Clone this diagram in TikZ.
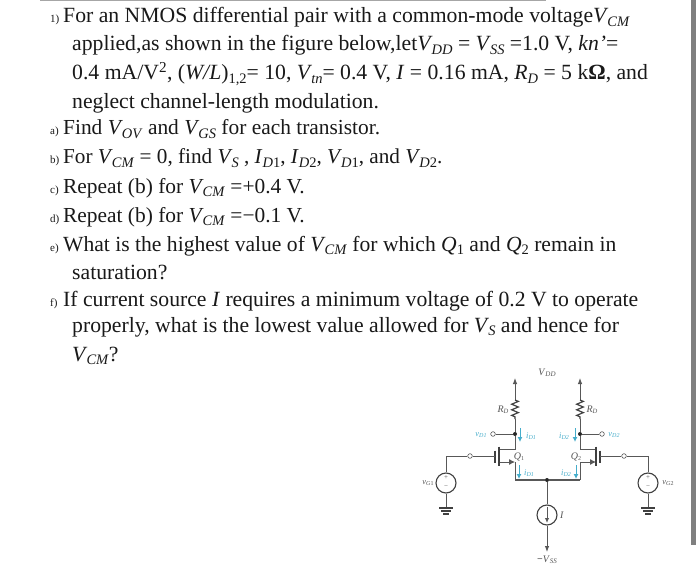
\documentclass[tikz,border=0pt]{standalone}
\usepackage{fontspec}
\setmainfont{Liberation Serif}
\usetikzlibrary{arrows.meta,decorations.pathmorphing,calc}
\definecolor{wirec}{HTML}{585858}
\definecolor{bluec}{HTML}{45ADCB}
\definecolor{labc}{HTML}{555555}
\newcommand{\sbs}[1]{\raisebox{-0.32ex}{\fontsize{14.5}{15}\selectfont\textit{#1}}}
\newcommand{\sbr}[1]{\raisebox{-0.32ex}{\fontsize{14.5}{15}\selectfont #1}}
\newcommand{\tnum}[1]{{\fontsize{11}{11}\selectfont #1}}
\newcommand{\cV}[1]{\textit{V}\kern-1pt\sbs{#1}}
\newcommand{\lab}[2]{\textit{#1}\raisebox{-0.25ex}{\fontsize{6}{6}\selectfont\textit{#2}}}
\tikzset{
  x=1pt,y=-1pt,
  txt/.style={anchor=base west,inner sep=0pt,font=\fontsize{21.7}{24}\selectfont,text=black!90},
  wire/.style={draw=wirec,line width=0.9pt},
  tick/.style={draw=black!75,line width=1.4pt},
  arr/.style={wire,-{Latex[length=6pt,width=4.5pt]}},
  bluearr/.style={draw=bluec,line width=1pt,-{Latex[length=5pt,width=5pt]}},
  dotn/.style={circle,fill=black!85,inner sep=0pt,minimum size=4pt},
  opn/.style={circle,draw=wirec,fill=white,line width=0.6pt,inner sep=0pt,minimum size=4.6pt},
  srcn/.style={circle,draw=black!75,fill=white,line width=1.1pt,inner sep=0pt,minimum size=20pt},
  clab/.style={inner sep=0pt,text=labc,font=\fontsize{8.5}{9}\selectfont},
  blab/.style={inner sep=0pt,text=bluec,font=\fontsize{8.5}{9}\selectfont},
  sgn/.style={inner sep=0pt,text=labc,font=\fontsize{7}{7}\selectfont},
  res/.style={draw=black!75,line width=1.2pt,decorate,decoration={zigzag,segment length=5.6pt,amplitude=3.3pt}},
  gnd/.style={draw=black!75,line width=1.2pt}
}
\begin{document}
\begin{tikzpicture}
\useasboundingbox (0,0) rectangle (700,585);
\fill[white] (0,0) rectangle (700,585);
% page edge marks
\coordinate (ta) at (40,0.6); \coordinate (tb) at (546,0.6);
\draw[draw=black!35,line width=1.2pt] (ta) -- (tb);
\fill[black!50] (691,0) rectangle (696,545);
% text
\node[txt] (l1n) at (50,23) {\tnum{1)}};
\node[txt] (l1) at (63,23) {For an NMOS differential pair with a common-mode voltage\cV{CM}};
\node[txt] (l2) at (72,51) {applied,as shown in the figure below,let\cV{DD} = \cV{SS} =1.0 V, \textit{kn'}=};
\node[txt] (l3) at (72,80) {0.4 mA/V\textsuperscript{2}, (\textit{W/L})\sbr{1,2}= 10, \cV{tn}= 0.4 V, \textit{I} = 0.16 mA, \textit{R}\sbs{D} = 5 k\textbf{Ω}, and};
\node[txt] (l4) at (72,109) {neglect channel-length modulation.};
\node[txt] (an) at (50,135) {\tnum{a)}};
\node[txt,font=\fontsize{21.4}{24}\selectfont] (a) at (63,135) {Find \cV{OV} and \cV{GS} for each transistor.};
\node[txt] (bn) at (50,164) {\tnum{b)}};
\node[txt,font=\fontsize{21.2}{24}\selectfont] (b) at (63,164) {For \cV{CM} = 0, find \cV{S} , \textit{I}\sbs{D}\sbr{1}, \textit{I}\sbs{D}\sbr{2}, \cV{D}\sbr{1}, and \cV{D}\sbr{2}.};
\node[txt] (cn) at (50,193.5) {\tnum{c)}};
\node[txt,font=\fontsize{21.4}{24}\selectfont] (c) at (63,193.5) {Repeat (b) for \cV{CM} =+0.4 V.};
\node[txt] (dn) at (50,222.5) {\tnum{d)}};
\node[txt,font=\fontsize{21.4}{24}\selectfont] (d) at (63,222.5) {Repeat (b) for \cV{CM} =−0.1 V.};
\node[txt] (en) at (50,251.5) {\tnum{e)}};
\node[txt,font=\fontsize{21.6}{24}\selectfont] (e) at (63,251.5) {What is the highest value of \cV{CM} for which \textit{Q}\sbr{1} and \textit{Q}\sbr{2} remain in};
\node[txt] (e2) at (72,279.5) {saturation?};
\node[txt] (fn) at (50,306.5) {\tnum{f)}};
\node[txt] (f) at (63,306.5) {If current source \textit{I} requires a minimum voltage of 0.2 V to operate};
\node[txt] (f2) at (72,332.5) {properly, what is the lowest value allowed for \cV{S} and hence for};
\node[txt] (f3) at (72,361) {\cV{CM}?};
% circuit coordinates
\coordinate (vt1) at (515,378); \coordinate (vt2) at (580,378);
\coordinate (r1t) at (515,400); \coordinate (r1b) at (515,419);
\coordinate (r2t) at (580,400); \coordinate (r2b) at (580,419);
\node[dotn] (d1) at (515,434) {}; \node[dotn] (d2) at (580,434) {};
\node[opn] (vd1) at (493,434) {}; \node[opn] (vd2) at (602,434) {};
\coordinate (dr1) at (515,449); \coordinate (dr2) at (580,449);
\coordinate (ch1d) at (499,449); \coordinate (ch2d) at (596,449);
\coordinate (ch1s) at (499,462); \coordinate (ch2s) at (596,462);
\coordinate (s1) at (515,462); \coordinate (s2) at (580,462);
\coordinate (gb1) at (495,456); \coordinate (gb2) at (600,456);
\node[opn] (g1o) at (470,456) {}; \node[opn] (g2o) at (624,456) {};
\coordinate (gc1) at (446,456); \coordinate (gc2) at (648,456);
\coordinate (b1) at (515,480); \coordinate (b2) at (580,480);
\node[dotn] (bm) at (547,480) {};
\node[srcn] (vg1) at (446,483) {}; \node[srcn] (vg2) at (648,483) {};
\node[srcn] (isrc) at (547,515) {};
\coordinate (g1) at (446,508); \coordinate (g2) at (648,508);
\coordinate (vss) at (547,552);
% wires
\draw[arr] (r1t) -- (vt1);
\draw[arr] (r2t) -- (vt2);
\draw[res] (r1t) -- (r1b);
\draw[res] (r2t) -- (r2b);
\draw[wire] (r1b) -- (d1) -- (dr1) -- (ch1d);
\draw[wire] (r2b) -- (d2) -- (dr2) -- (ch2d);
\draw[wire] (vd1) -- (d1);
\draw[wire] (vd2) -- (d2);
\draw[wire,-{Latex[length=6pt,width=6pt]}] (ch1s) -- (s1);
\draw[wire] (s1) -- (b1);
\draw[wire,-{Latex[length=6pt,width=6pt]}] (s2) -- (ch2s);
\draw[wire] (s2) -- (b2);
\draw[wire,line width=1.1pt] (b1) -- (bm) -- (b2);
\draw[tick] (499,446.5) -- (499,466);
\draw[tick] (596,446.5) -- (596,466);
\draw[tick] (495,450.5) -- (495,463);
\draw[tick] (600,450.5) -- (600,463);
\draw[wire] (gb1) -- (g1o) -- (gc1) -- (vg1);
\draw[wire] (gb2) -- (g2o) -- (gc2) -- (vg2);
\draw[wire] (vg1) -- (g1);
\draw[wire] (vg2) -- (g2);
\draw[wire] (bm) -- (isrc);
\draw[arr] (isrc) -- (vss);
\draw[wire,line width=1pt,-{Latex[length=5pt,width=4.5pt]}] (547,507) -- (547,523);
% grounds
\foreach \g in {g1,g2}{
  \draw[gnd] ($(\g)+(-7,0)$) -- ($(\g)+(7,0)$);
  \draw[gnd] ($(\g)+(-5,3)$) -- ($(\g)+(5,3)$);
  \draw[gnd] ($(\g)+(-3,6)$) -- ($(\g)+(3,6)$);
}
% + and - in sources
\node[sgn] (p1) at (446,477.5) {+};
\node[sgn] (m1) at (446,487.5) {−};
\node[sgn] (p2) at (648,477.5) {+};
\node[sgn] (m2) at (648,487.5) {−};
% blue current arrows
\draw[bluearr] (520,428) -- (520,442);
\draw[bluearr] (575,428) -- (575,442);
\draw[bluearr] (519,465) -- (519,479);
\draw[bluearr] (576,465) -- (576,479);
% labels
\node[clab,font=\fontsize{10}{10}\selectfont] (vddl) at (547,373) {\textit{V}\raisebox{-0.25ex}{\fontsize{7}{7}\selectfont\textit{DD}}};
\node[clab,font=\fontsize{10}{10}\selectfont] (rdl) at (503,410) {\textit{R}\raisebox{-0.25ex}{\fontsize{6.5}{7}\selectfont\textit{D}}};
\node[clab,font=\fontsize{10}{10}\selectfont] (rdr) at (592,410) {\textit{R}\raisebox{-0.25ex}{\fontsize{6.5}{7}\selectfont\textit{D}}};
\node[blab] (vd1l) at (481,435) {\lab{v}{D1}};
\node[blab] (vd2l) at (614,435) {\lab{v}{D2}};
\node[blab] (id1a) at (531,436) {\lab{i}{D1}};
\node[blab] (id2a) at (564,436) {\lab{i}{D2}};
\node[blab] (id1b) at (529,473) {\lab{i}{D1}};
\node[blab] (id2b) at (566,473) {\lab{i}{D2}};
\node[clab,font=\fontsize{10}{10}\selectfont] (q1l) at (519,456.5) {\textit{Q}\raisebox{-0.25ex}{\fontsize{6}{6}\selectfont 1}};
\node[clab,font=\fontsize{10}{10}\selectfont] (q2l) at (576,456.5) {\textit{Q}\raisebox{-0.25ex}{\fontsize{6}{6}\selectfont 2}};
\node[clab] (vg1l) at (428,483) {\textit{v}\raisebox{-0.25ex}{\fontsize{6}{6}\selectfont\textit{G}1}};
\node[clab] (vg2l) at (668,483) {\textit{v}\raisebox{-0.25ex}{\fontsize{6}{6}\selectfont\textit{G}2}};
\node[clab,font=\fontsize{10}{10}\selectfont] (il) at (562,515) {\textit{I}};
\node[clab,font=\fontsize{10}{10}\selectfont] (vssl) at (547,559.5) {\textbf{−}\textit{V}\raisebox{-0.25ex}{\fontsize{7}{7}\selectfont\textit{SS}}};
\end{tikzpicture}
\end{document}
